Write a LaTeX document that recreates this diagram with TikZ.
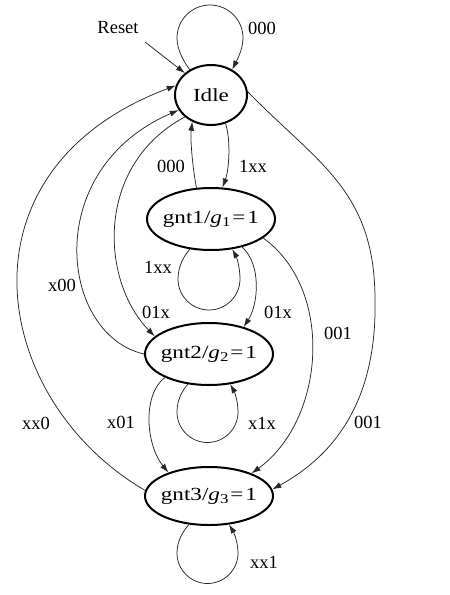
\documentclass[tikz,border=0pt]{standalone}
\usepackage{fontspec}
\setmainfont{Liberation Serif}
\newfontfamily\nodefont[FakeStretch=1.25]{Liberation Serif}
\usetikzlibrary{arrows.meta,shapes.geometric}
\newcommand\gsub[1]{\textit{g}\raisebox{-0.35ex}{\fontsize{13.5}{14}\selectfont #1}}
\tikzset{
  state/.style={draw, ellipse, line width=2pt, inner ysep=0pt, inner xsep=-4pt,
    font=\nodefont\fontsize{18.5}{20}\selectfont},
  edge/.style={draw=black!85, line width=0.75pt, -{Latex[length=9pt,width=6pt]}},
  lbl/.style={font=\fontsize{18.5}{20}\selectfont, inner sep=0pt},
}
\begin{document}
\begin{tikzpicture}[x=1pt,y=1pt]
\useasboundingbox[fill=white] (0,0) rectangle (450,-595);
% states
\node[state, minimum width=72pt, minimum height=60pt] (idle) at (211,-95) {Idle};
\node[state, minimum width=128pt, minimum height=62pt] (g1) at (211,-219) {gnt1/\gsub{1}\kern2pt=\kern2pt1};
\node[state, minimum width=128pt, minimum height=62pt] (g2) at (209,-354) {gnt2/\gsub{2}\kern2pt=\kern2pt1};
\node[state, minimum width=128pt, minimum height=58pt] (g3) at (209,-496) {gnt3/\gsub{3}\kern2pt=\kern2pt1};
% labels
\node[lbl] (reset) at (118,-28) {Reset};
\node[lbl] (lidle) at (262,-28) {000};
\node[lbl] (lback1) at (171,-166) {000};
\node[lbl] (lgo1) at (253,-166) {1xx};
\node[lbl] (lloop1) at (158,-267) {1xx};
\node[lbl] (lgo2a) at (156,-312) {01x};
\node[lbl] (lgo2b) at (278,-312) {01x};
\node[lbl] (lgo3a) at (338,-333) {001};
\node[lbl] (lgo3b) at (368,-422) {001};
\node[lbl] (lloop2) at (262,-423) {x1x};
\node[lbl] (lloop3) at (264,-562) {xx1};
\node[lbl] (lg23) at (121,-422) {x01};
\node[lbl] (lback2) at (62,-285) {x00};
\node[lbl] (lback3) at (36,-423) {xx0};
% reset arrow
\coordinate (rs) at (145,-42);
\draw[edge] (rs) -- (idle.140);
% self loops
\draw[edge] (idle.130) .. controls (184,-62) and (177,-50) .. (177,-38)
  arc[start angle=180,end angle=0,radius=33]
  .. controls (243,-50) and (236,-62) .. (idle.50);
\draw[edge] (g1.235) .. controls (184,-256) and (178,-266) .. (178,-279)
  arc[start angle=180,end angle=360,radius=31]
  .. controls (240,-266) and (236,-256) .. (g1.305);
\draw[edge] (g2.235) .. controls (182,-391) and (177,-400) .. (177,-412)
  arc[start angle=180,end angle=360,radius=30.5]
  .. controls (238,-400) and (234,-391) .. (g2.305);
\draw[edge] (g3.235) .. controls (183,-531) and (177,-541) .. (177,-553)
  arc[start angle=180,end angle=360,radius=30.5]
  .. controls (238,-541) and (233,-531) .. (g3.305);
% transitions
\draw[edge] (idle.297) .. controls (231,-140) and (229,-170) .. (g1.70);
\draw[edge] (g1.115) .. controls (193,-170) and (190,-140) .. (idle.235);
\draw[edge] (idle.220) .. controls (95,-165) and (100,-280) .. (g2.162);
\draw[edge] (g2.180) .. controls (60,-335) and (40,-170) .. (idle.205);
\draw[edge] (g3.175) .. controls (-10,-400) and (-49,-170) .. (idle.165);
\draw[edge] (g2.208) .. controls (142,-395) and (146,-445) .. (g3.150);
\draw[edge] (g1.318) .. controls (262,-265) and (258,-305) .. (g2.38);
\draw[edge] (g1.340) .. controls (335,-290) and (325,-420) .. (g3.28);
\coordinate (rmid) at (375,-300);
\draw[edge] (idle.5) .. controls (317,-163) and (375,-190) .. (rmid)
  .. controls (377,-400) and (335,-455) .. (g3.6);
\end{tikzpicture}
\end{document}
